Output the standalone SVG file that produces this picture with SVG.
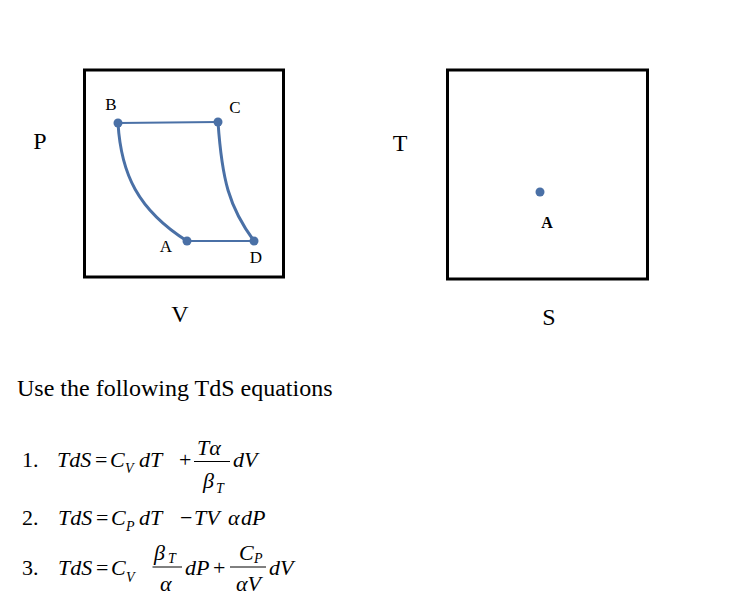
<svg xmlns="http://www.w3.org/2000/svg" width="747" height="615" viewBox="0 0 747 615">
<style>
.box{fill:none;stroke:#000;stroke-width:3}
.t{font-family:"Liberation Serif","Times New Roman",serif;fill:#000}
.ax{font-size:24px}
.pt{font-size:17px}
.eq{font-size:22px}
.i{font-style:italic}
.sub{font-size:14px;font-style:italic}
.curve{fill:none;stroke:#4a70a6;stroke-width:3;stroke-linecap:round}
.hl{fill:none;stroke:#4a70a6;stroke-width:1.8}
.dot{fill:#4a70a6}
.bar{stroke:#000;stroke-width:1}
</style>
<rect width="747" height="615" fill="#fff"/>
<g id="pv-plot">
<rect class="box" x="84.5" y="70" width="199" height="207"/>
<text class="t ax" x="40" y="149" text-anchor="middle">P</text>
<text class="t ax" x="180" y="322" text-anchor="middle">V</text>
</g>
<g id="connectors">
<path class="hl" d="M118,123 L218,122"/>
<path class="hl" d="M187,241 L254,241"/>
<path class="curve" d="M118,123 C121,174 138,210 187,241"/>
<path class="curve" d="M218,122 C222,180 229,207 254,241"/>
</g>
<g id="node-B"><circle class="dot" cx="118" cy="123" r="4.5"/><text class="t pt" x="111" y="110" text-anchor="middle">B</text></g>
<g id="node-C"><circle class="dot" cx="218" cy="122" r="4.5"/><text class="t pt" x="235" y="113" text-anchor="middle">C</text></g>
<g id="node-A"><circle class="dot" cx="187" cy="241" r="4.5"/><text class="t pt" x="166" y="252" text-anchor="middle">A</text></g>
<g id="node-D"><circle class="dot" cx="254" cy="241" r="4.5"/><text class="t pt" x="256" y="263" text-anchor="middle">D</text></g>
<g id="ts-plot">
<rect class="box" x="447.5" y="70" width="200" height="209"/>
<text class="t ax" x="400" y="151" text-anchor="middle">T</text>
<text class="t ax" x="549" y="325" text-anchor="middle">S</text>
</g>
<g id="node-A2"><circle class="dot" cx="540" cy="192" r="4.5"/><text class="t" x="547" y="228" text-anchor="middle" font-size="16" font-weight="bold">A</text></g>
<g id="equations">
<text class="t ax" x="17" y="396">Use the following TdS equations</text>
<!-- eq 1 -->
<text class="t eq" x="22" y="467">1.</text>
<text class="t eq i" x="57" y="467">TdS</text>
<text class="t eq" x="95" y="467">=</text>
<text class="t eq i" x="110" y="467">C</text>
<text class="t sub" x="125" y="473">V</text>
<text class="t eq i" x="139" y="467">dT</text>
<text class="t eq" x="179" y="467">+</text>
<text class="t eq i" x="197" y="455">Tα</text>
<line class="bar" x1="194" y1="461.5" x2="230" y2="461.5"/>
<text class="t eq i" x="203" y="488">β</text>
<text class="t sub" x="216" y="493">T</text>
<text class="t eq i" x="233" y="467">dV</text>
<!-- eq 2 -->
<text class="t eq" x="22" y="525">2.</text>
<text class="t eq i" x="58" y="525">TdS</text>
<text class="t eq" x="96" y="525">=</text>
<text class="t eq i" x="111" y="525">C</text>
<text class="t sub" x="126" y="531">P</text>
<text class="t eq i" x="139" y="525">dT</text>
<text class="t eq" x="180" y="525">−</text>
<text class="t eq i" x="194" y="525">TV</text>
<text class="t eq i" x="228" y="525">α</text>
<text class="t eq i" x="241" y="525">dP</text>
<!-- eq 3 -->
<text class="t eq" x="22" y="575">3.</text>
<text class="t eq i" x="58" y="575">TdS</text>
<text class="t eq" x="96" y="575">=</text>
<text class="t eq i" x="111" y="575">C</text>
<text class="t sub" x="126" y="582">V</text>
<text class="t eq i" x="154" y="560">β</text>
<text class="t sub" x="168" y="563">T</text>
<line class="bar" x1="152.5" y1="567" x2="182" y2="567"/>
<text class="t eq i" x="160" y="591">α</text>
<text class="t eq i" x="185" y="575">dP</text>
<text class="t eq" x="213" y="575">+</text>
<text class="t eq i" x="239" y="560">C</text>
<text class="t sub" x="254" y="563">P</text>
<line class="bar" x1="230" y1="567" x2="266" y2="567"/>
<text class="t eq i" x="236" y="591">αV</text>
<text class="t eq i" x="269" y="575">dV</text>
</g>
</svg>
